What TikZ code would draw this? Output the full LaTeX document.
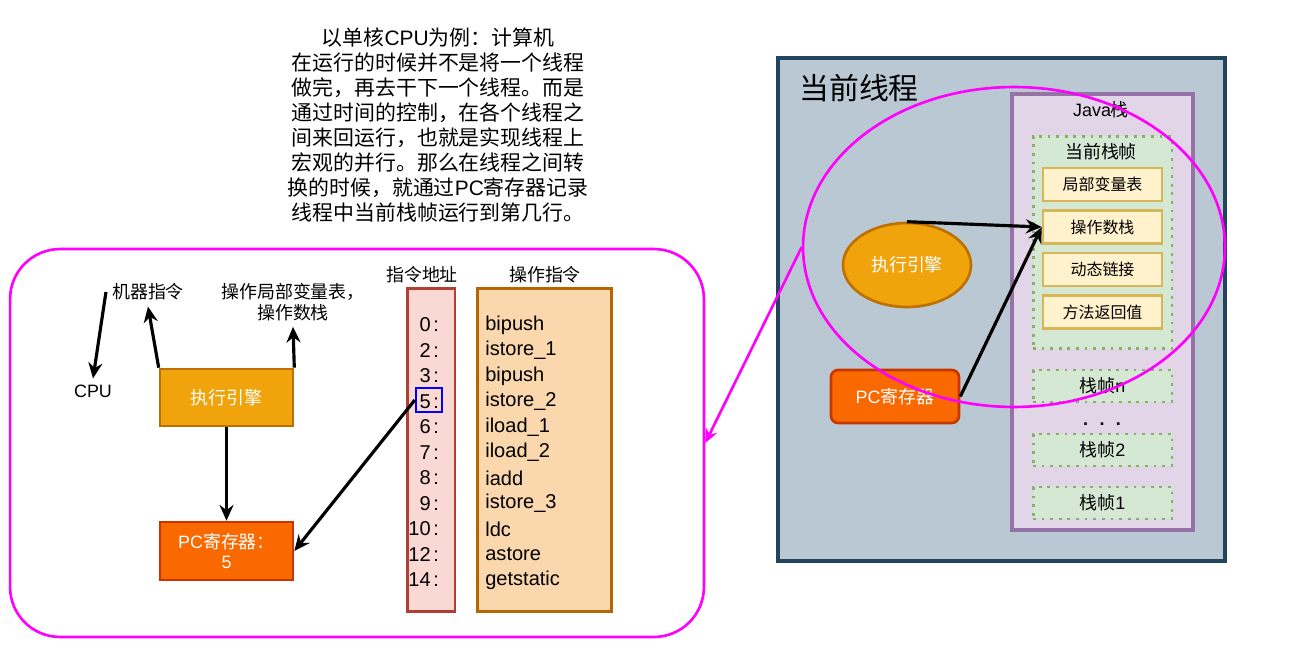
\documentclass[tikz,border=0pt]{standalone}
\usepackage{fontspec}
\setmainfont{Noto Sans CJK SC}
\newfontfamily\lat{Liberation Sans}
\usepackage{tikz}
\usetikzlibrary{arrows.meta,shapes.geometric}
\definecolor{hot}{HTML}{FF00FF}
\definecolor{thrfill}{HTML}{BAC8D3}
\definecolor{thrline}{HTML}{23445D}
\definecolor{stkfill}{HTML}{E1D5E7}
\definecolor{stkline}{HTML}{9673A6}
\definecolor{frmfill}{HTML}{D5E8D4}
\definecolor{frmline}{HTML}{82B366}
\definecolor{slotfill}{HTML}{FFF2CC}
\definecolor{slotline}{HTML}{D6B656}
\definecolor{engfill}{HTML}{F0A30A}
\definecolor{engline}{HTML}{BD7000}
\definecolor{pcfill}{HTML}{FA6800}
\definecolor{pcline}{HTML}{C73500}
\definecolor{addrfill}{HTML}{FAD9D5}
\definecolor{addrline}{HTML}{AE4132}
\definecolor{opfill}{HTML}{FAD7AC}
\definecolor{opline}{HTML}{B46504}
\newcommand{\fnote}{\fontsize{11.9pt}{14.2pt}\selectfont}
\newcommand{\fnorm}{\fontsize{10.2pt}{11.6pt}\selectfont}
\newcommand{\fcode}{\fontsize{11.4pt}{13pt}\selectfont}
\newcommand{\fsmall}{\fontsize{9.1pt}{10pt}\selectfont}
\newcommand{\ftitle}{\fontsize{17pt}{19pt}\selectfont}

\begin{document}
\begin{tikzpicture}[x=0.02cm,y=-0.02cm,
  conn/.style={line width=1.8pt,-{Stealth[length=9pt,width=8pt,inset=3pt]}},
  slot/.style={draw=slotline,fill=slotfill,line width=1.5pt,minimum width=2.38cm,
    minimum height=0.66cm,inner sep=0pt,font=\fsmall},
  sframe/.style={draw=frmline,fill=frmfill,line width=1.7pt,
    dash pattern=on 1.6pt off 3.3pt,minimum width=2.78cm,inner sep=0pt,font=\fnorm},
  hotbox/.style={draw=hot,line width=1.5pt,inner sep=0pt}]
  \useasboundingbox (0,0) rectangle (1296,669);

  % note on top
  \node[align=center,font=\fnote] (note) at (438,125)
    {以单核{\lat CPU}为例：计算机\\在运行的时候并不是将一个线程\\做完，再去干下一个线程。而是\\
     通过时间的控制，在各个线程之\\间来回运行，也就是实现线程上\\宏观的并行。那么在线程之间转\\
     换的时候，就通过{\lat PC}寄存器记录\\线程中当前栈帧运行到第几行。};

  % left: the machine
  \node[hotbox,rounded corners=1cm,minimum width=13.88cm,minimum height=7.76cm] (machine) at (357,443) {};
  \node[font=\fnorm] (instr) at (148,292) {机器指令};
  \node[font=\fnorm\lat] (cpu) at (93,391) {CPU};
  \node[font=\fnorm,align=center] (ops) at (293,302) {操作局部变量表，\\操作数栈};
  \node[draw=engline,fill=engfill,line width=1.5pt,minimum width=2.66cm,minimum height=1.14cm,
    text=white,font=\fnorm] (exec) at (226.5,397.5) {执行引擎};
  \node[draw=pcline,fill=pcfill,line width=1.5pt,minimum width=2.66cm,minimum height=1.16cm,
    text=white,font=\fnorm,align=center] (pc) at (226.5,551) {{\lat PC}寄存器：\\{\lat 5}};
  \draw[conn] (instr.west) -- (cpu.north);
  \draw[conn] (exec.north west) -- (instr.south);
  \draw[conn] (exec.north east) -- (ops.south);
  \draw[conn] (exec.south) -- (pc.north);

  % instruction table
  \node[font=\fnorm] (addrhead) at (422,275) {指令地址};
  \node[font=\fnorm] (ophead) at (545,275) {操作指令};
  \node[draw=addrline,fill=addrfill,line width=1.7pt,minimum width=0.96cm,minimum height=6.48cm] (addrcol) at (431,450) {};
  \node[draw=opline,fill=opfill,line width=1.7pt,minimum width=2.7cm,minimum height=6.48cm] (opcol) at (544.5,450) {};
  \foreach \a/\o [count=\i from 0] in {0/bipush,2/istore\_1,3/bipush,5/istore\_2,6/iload\_1,
      7/iload\_2,8/iadd,9/istore\_3,10/ldc,12/astore,14/getstatic} {
    \node[anchor=east,font=\fcode\lat,inner sep=1pt] (addr\i) at (441,{325+25.5*\i}) {\a\hspace{1.5pt}:};
    \node[anchor=west,font=\fcode\lat,inner sep=0pt] (op\i) at (485,{325+25.5*\i}) {\o};
  }
  \node[draw=blue,line width=1.4pt,minimum width=0.52cm,minimum height=0.48cm,inner sep=0pt] (cur) at (429,400) {};
  \draw[conn] (cur.west) -- (pc.east);

  % right: current thread
  \node[draw=thrline,fill=thrfill,line width=2.4pt,minimum width=8.94cm,minimum height=10.06cm] (thread) at (1001.5,309.5) {};
  \node[anchor=west,inner sep=0pt,font=\ftitle] (thrtitle) at (799,88) {当前线程};
  \node[draw=stkline,fill=stkfill,line width=1.8pt,minimum width=3.62cm,minimum height=8.72cm] (jstack) at (1102.5,312) {};
  \node[font=\fnorm] (jtitle) at (1101,110) {{\lat Java}栈};
  \node[sframe,minimum height=4.26cm] (curframe) at (1102.5,242.5) {};
  \node[font=\fnorm] (cftitle) at (1101,152) {当前栈帧};
  \node[slot] (locals) at (1102.5,184.5) {局部变量表};
  \node[slot] (opstack) at (1102.5,227) {操作数栈};
  \node[slot] (dynlink) at (1102.5,269.5) {动态链接};
  \node[slot] (retval) at (1102.5,312) {方法返回值};
  \node[sframe,minimum height=0.64cm] (framen) at (1102.5,386) {栈帧{\lat n}};
  \node[font=\fnorm\lat\bfseries] (gap) at (1102,424) {.\hspace{6.5pt}.\hspace{6.5pt}.};
  \node[sframe,minimum height=0.64cm] (frame2) at (1102.5,450) {栈帧{\lat 2}};
  \node[sframe,minimum height=0.64cm] (frame1) at (1102.5,503) {栈帧{\lat 1}};
  \node[ellipse,draw=engline,fill=engfill,line width=1.5pt,minimum width=2.56cm,minimum height=1.68cm,
    inner sep=0pt,text=white,font=\fnorm] (eng) at (907,265) {执行引擎};
  \node[draw=pcline,fill=pcfill,line width=1.5pt,rounded corners=4pt,minimum width=2.56cm,
    minimum height=1.06cm,text=white,font=\fnorm] (pcreg) at (895,396.5) {{\lat PC}寄存器};
  \draw[conn] (eng.north) -- (opstack.west);
  \draw[conn] (pcreg.east) -- (opstack.west);

  % highlight
  \node[ellipse,hotbox,minimum width=8.44cm,minimum height=6.4cm] (focus) at (1014,247) {};
  \draw[hotbox,-{Stealth[length=8pt,width=7pt,inset=2.5pt]}] (focus.west) -- (machine.east);
\end{tikzpicture}
\end{document}
